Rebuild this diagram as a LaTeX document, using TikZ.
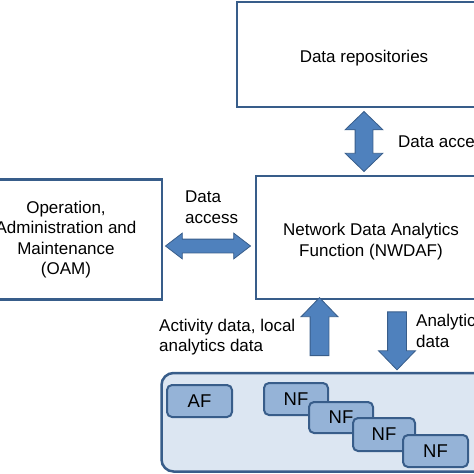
\documentclass[tikz,border=0pt]{standalone}
\usepackage{fontspec}
\setmainfont{Liberation Sans}
\usepackage{tikz}
\usetikzlibrary{shapes.arrows}
\usetikzlibrary{calc}

\definecolor{boxline}{HTML}{385D8A}
\definecolor{arrowfill}{HTML}{4F81BD}
\definecolor{poolfill}{HTML}{DCE6F2}
\definecolor{fnfill}{HTML}{95B3D7}

\begin{document}
\begin{tikzpicture}[
	x=1pt,
	y=-1pt,
	box/.style={
		rectangle,
		draw=boxline,
		line width=2.5pt,
		fill=white,
		align=center
		},
	pool/.style={
		rectangle,
		rounded corners=12pt,
		draw=boxline,
		line width=2.5pt,
		fill=poolfill
		},
	fn/.style={
		rectangle,
		rounded corners=5pt,
		draw=boxline,
		line width=2pt,
		fill=fnfill,
		minimum width=64pt,
		minimum height=32pt,
		font=\fontsize{18.5}{20}\selectfont
		},
	blockarrow/.style={
		fill=arrowfill,
		draw=boxline,
		line width=0.8pt,
		inner xsep=0pt,
		minimum width=0pt
		},
	twoway/.style={
		blockarrow,
		double arrow
		},
	oneway/.style={
		blockarrow,
		single arrow,
		inner ysep=9pt,
		minimum height=58pt,
		single arrow head extend=9pt,
		single arrow tip angle=88
		},
	note/.style={
		align=left,
		inner sep=0pt
		},
	every node/.style={font=\fontsize{17}{20.5}\selectfont}
]

\useasboundingbox (0,0) rectangle (474,474);
\clip (0,0) rectangle (474,474);

% Boxes
\node [box, minimum width=254pt, minimum height=105pt, text height=20.5pt] (Repositories) at (364,54.5) {Data repositories};
\node [box, minimum width=230pt, minimum height=123pt, text height=41pt] (NWDAF) at (371,237.5) {Network Data Analytics\\Function (NWDAF)};
\node [box, minimum width=192pt, minimum height=120pt] (OAM) at (66,239.5) {Operation,\\Administration and\\Maintenance\\(OAM)};

% Network functions
\node [pool, minimum width=340pt, minimum height=98.5pt] (Functions) at (331.5,422.25) {};
\node [fn, minimum width=65pt] (AF) at (199.5,401) {AF};
\node [fn] (NF1) at (296,399) {NF};
\node [fn, minimum height=31pt] (NF2) at (341,417.5) {NF};
\node [fn, minimum width=62pt, minimum height=33pt] (NF3) at (384,434.5) {NF};
\node [fn, minimum width=65pt] (NF4) at (435.5,451) {NF};

% Block arrows
\node [twoway, rotate=90, minimum height=60pt, inner ysep=8.5pt, double arrow head extend=10pt, double arrow tip angle=92] (RepoLink) at ($(Repositories.south)!0.5!(Repositories.south |- NWDAF.north)$) {};
\node [twoway, minimum height=85pt, inner ysep=6.5pt, double arrow head extend=6pt, double arrow tip angle=75, xshift=-1pt, yshift=-7.5pt] (OAMLink) at ($(OAM.east)!0.5!(NWDAF.west)$) {};
\node [oneway, rotate=90] (UpLink) at (319.5,331.5) {};
\node [oneway, rotate=-90] (DownLink) at (397,336) {};

% Labels
\node [note, anchor=base west] (RepoLabel) at (398,147) {Data access};
\node [note, anchor=north west] (OAMLabel) at (185,191) {Data\\access};
\node [note, anchor=north west] (UpLabel) at (159,318.5) {Activity data, local\\analytics data};
\node [note, anchor=north west] (DownLabel) at (416,314) {Analytics\\data};

\end{tikzpicture}
\end{document}
